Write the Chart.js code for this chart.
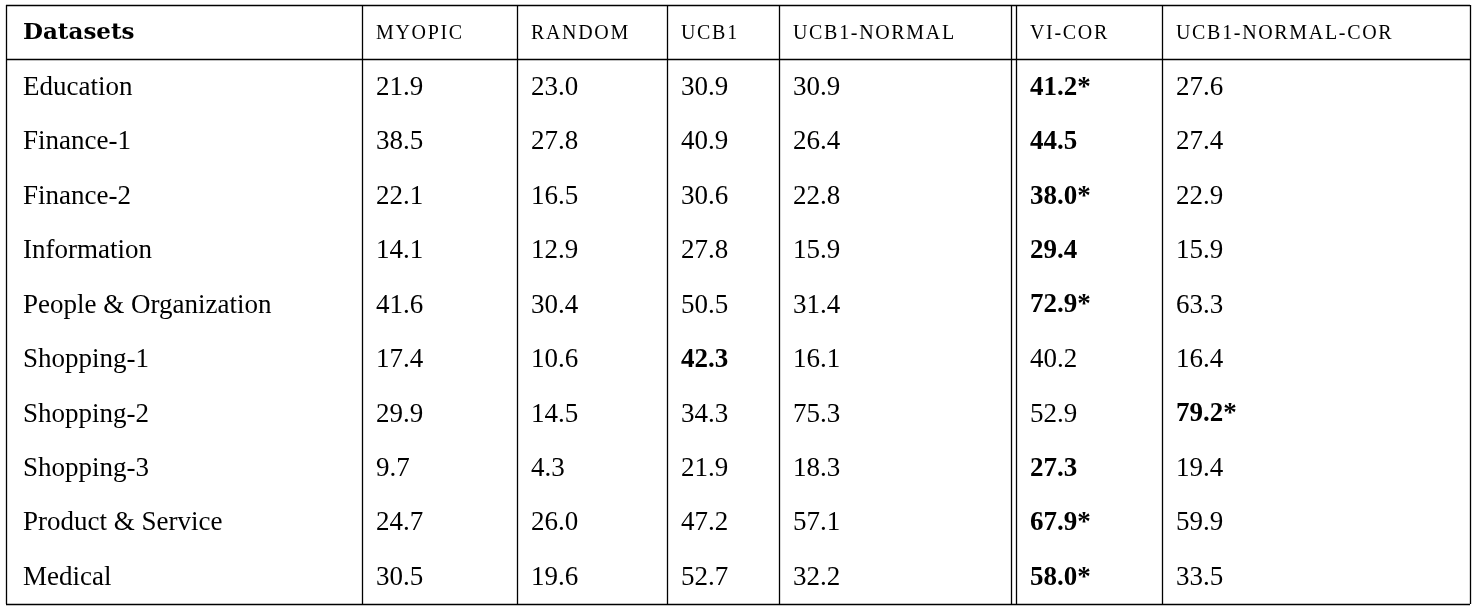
<!DOCTYPE html>
<html>
<head>
<meta charset="utf-8">
<script src="https://cdn.jsdelivr.net/npm/chart.js"></script>
<style>
  html, body { margin: 0; padding: 0; background: #fff; }
  #wrap { width: 1475px; height: 607px; }
</style>
</head>
<body>
<div id="wrap"><canvas id="tableChart"></canvas></div>
<script>
// table contents
const columns = ['Datasets', 'myopic', 'random', 'ucb1', 'ucb1-normal', 'vi-cor', 'ucb1-normal-cor'];
const datasets = ['Education', 'Finance-1', 'Finance-2', 'Information', 'People & Organization',
  'Shopping-1', 'Shopping-2', 'Shopping-3', 'Product & Service', 'Medical'];
const myopic = ['21.9', '38.5', '22.1', '14.1', '41.6', '17.4', '29.9', '9.7', '24.7', '30.5'];
const random = ['23.0', '27.8', '16.5', '12.9', '30.4', '10.6', '14.5', '4.3', '26.0', '19.6'];
const ucb1 = ['30.9', '40.9', '30.6', '27.8', '50.5', '42.3', '34.3', '21.9', '47.2', '52.7'];
const ucb1Normal = ['30.9', '26.4', '22.8', '15.9', '31.4', '16.1', '75.3', '18.3', '57.1', '32.2'];
const viCor = ['41.2*', '44.5', '38.0*', '29.4', '72.9*', '40.2', '52.9', '27.3', '67.9*', '58.0*'];
const ucb1NormalCor = ['27.6', '27.4', '22.9', '15.9', '63.3', '16.4', '79.2*', '19.4', '59.9', '33.5'];
// bold cells: [row, column]
const boldCells = [[0,5],[1,5],[2,5],[3,5],[4,5],[5,3],[6,6],[7,5],[8,5],[9,5]];

// column edges in x-scale units
const colEdges = [6, 362, 517, 667, 779, 1016, 1162, 1470];
const doubleLineCol = 5;

const body = datasets.map((d, i) => [d, myopic[i], random[i], ucb1[i], ucb1Normal[i], viCor[i], ucb1NormalCor[i]]);

const tablePlugin = {
  id: 'tablePlugin',
  afterDraw(chart) {
    const ctx = chart.ctx, xs = chart.scales.x, ys = chart.scales.y;
    const top = ys.getPixelForValue(0), bottom = ys.getPixelForValue(datasets.length + 1);
    const left = xs.getPixelForValue(colEdges[0]), right = xs.getPixelForValue(colEdges[colEdges.length - 1]);
    ctx.save();
    ctx.strokeStyle = '#000';
    ctx.lineWidth = 1.3;
    // horizontal lines: top, under header, bottom
    [0, 1, datasets.length + 1].forEach(r => {
      const y = Math.round(ys.getPixelForValue(r)) + 0.5;
      ctx.beginPath(); ctx.moveTo(left, y); ctx.lineTo(right, y); ctx.stroke();
    });
    // vertical lines
    colEdges.forEach((e, c) => {
      const x = Math.round(xs.getPixelForValue(e)) + 0.5;
      ctx.beginPath(); ctx.moveTo(x, top); ctx.lineTo(x, bottom); ctx.stroke();
      if (c === doubleLineCol) {
        ctx.beginPath(); ctx.moveTo(x - 5, top); ctx.lineTo(x - 5, bottom); ctx.stroke();
      }
    });
    ctx.fillStyle = '#000';
    ctx.textBaseline = 'middle';
    ctx.textAlign = 'left';
    // header
    columns.forEach((t, c) => {
      const x = xs.getPixelForValue(colEdges[c]) + (c === 0 ? 17 : 14);
      const y = ys.getPixelForValue(0.5) + 1;
      if (c === 0) {
        ctx.font = 'bold 23px "DejaVu Serif"';
        ctx.fillText(t, x, y);
      } else {
        ctx.font = '20px "Liberation Serif"';
        ctx.fillText(t.toUpperCase().split('').join(String.fromCharCode(8202)), x, y + 1);
      }
    });
    // body
    body.forEach((row, r) => {
      row.forEach((t, c) => {
        const bold = boldCells.some(b => b[0] === r && b[1] === c);
        ctx.font = (bold ? 'bold ' : '') + '27px "Liberation Serif"';
        const x = xs.getPixelForValue(colEdges[c]) + (c === 0 ? 17 : 14);
        ctx.fillText(t, x, ys.getPixelForValue(r + 1.5) + 1);
      });
    });
    ctx.restore();
  }
};

new Chart(document.getElementById('tableChart'), {
  type: 'scatter',
  data: { datasets: [{ data: [], pointRadius: 0 }] },
  options: {
    responsive: true,
    maintainAspectRatio: false,
    animation: false,
    layout: { padding: { left: 6, right: 5, top: 5, bottom: 3 } },
    plugins: { legend: { display: false }, tooltip: { enabled: false } },
    scales: {
      x: { type: 'linear', display: false, min: colEdges[0], max: colEdges[colEdges.length - 1] },
      y: { type: 'linear', display: false, reverse: true, min: 0, max: datasets.length + 1 }
    }
  },
  plugins: [tablePlugin]
});
</script>
</body>
</html>
